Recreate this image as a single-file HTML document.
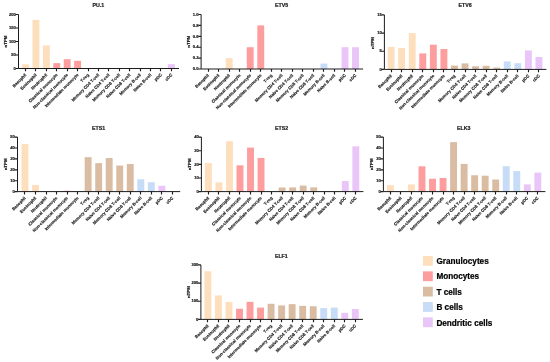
<!DOCTYPE html>
<html><head><meta charset="utf-8"><style>html,body{margin:0;padding:0;background:#fff;width:550px;height:362px;overflow:hidden}
svg{display:block;will-change:transform}
text{font-family:"Liberation Sans",sans-serif;font-weight:bold;fill:#1c1c1c}
.yl{font-size:4.1px;text-anchor:end;stroke:#1c1c1c;stroke-width:0.2px}
.xl{font-size:4.2px;text-anchor:end;stroke:#1c1c1c;stroke-width:0.15px}
.ti{font-size:5.25px;text-anchor:middle;stroke:#1c1c1c;stroke-width:0.2px}
.nt{font-size:4.4px;text-anchor:middle;stroke:#1c1c1c;stroke-width:0.2px}
.lg{font-size:8.2px;stroke:#000;fill:#000;stroke-width:0.22px}</style></head><body>
<svg width="550" height="362" viewBox="0 0 550 362">
<g><rect x="22.05" y="64.31" width="6.9" height="4.18" fill="#FEDFBD"/><rect x="32.47" y="19.9" width="6.9" height="48.6" fill="#FEDFBD"/><rect x="42.89" y="45.41" width="6.9" height="23.09" fill="#FEDFBD"/><rect x="53.31" y="63.15" width="6.9" height="5.35" fill="#FD9D9D"/><rect x="63.73" y="59.19" width="6.9" height="9.31" fill="#FD9D9D"/><rect x="74.15" y="60.8" width="6.9" height="7.69" fill="#FD9D9D"/><rect x="136.67" y="67.96" width="6.9" height="0.54" fill="#C7DCF7"/><rect x="167.93" y="64.18" width="6.9" height="4.32" fill="#EAC5F8"/><path d="M18.5 14.5V68.5H179" fill="none" stroke="#1c1c1c" stroke-width="1.0"/><path d="M15.7 68.5H18.5M15.7 55H18.5M15.7 41.5H18.5M15.7 28H18.5M15.7 14.5H18.5M25.5 68.5V71.3M35.5 68.5V71.3M46.5 68.5V71.3M56.5 68.5V71.3M67.5 68.5V71.3M77.5 68.5V71.3M88.5 68.5V71.3M98.5 68.5V71.3M108.5 68.5V71.3M119.5 68.5V71.3M129.5 68.5V71.3M140.5 68.5V71.3M150.5 68.5V71.3M160.5 68.5V71.3M171.5 68.5V71.3" fill="none" stroke="#1c1c1c" stroke-width="1.15"/><text class="yl" x="15.9" y="69.7">0</text><text class="yl" x="15.9" y="56.2">50</text><text class="yl" x="15.9" y="42.7">100</text><text class="yl" x="15.9" y="29.2">150</text><text class="yl" x="15.9" y="15.7">200</text><text class="nt" transform="translate(6.5 41.5) rotate(-90)">nTPM</text><text class="xl" transform="translate(26.7 75.2) rotate(-45)">Basophil</text><text class="xl" transform="translate(37.12 75.2) rotate(-45)">Eosinophil</text><text class="xl" transform="translate(47.54 75.2) rotate(-45)">Neutrophil</text><text class="xl" transform="translate(57.96 75.2) rotate(-45)">Classical monocyte</text><text class="xl" transform="translate(68.38 75.2) rotate(-45)">Non-classical monocyte</text><text class="xl" transform="translate(78.8 75.2) rotate(-45)">Intermediate monocyte</text><text class="xl" transform="translate(89.22 75.2) rotate(-45)">T-reg</text><text class="xl" transform="translate(99.64 75.2) rotate(-45)">Memory CD4 T-cell</text><text class="xl" transform="translate(110.06 75.2) rotate(-45)">Naive CD4 T-cell</text><text class="xl" transform="translate(120.48 75.2) rotate(-45)">Memory CD8 T-cell</text><text class="xl" transform="translate(130.9 75.2) rotate(-45)">Naive CD8 T-cell</text><text class="xl" transform="translate(141.32 75.2) rotate(-45)">Memory B-cell</text><text class="xl" transform="translate(151.74 75.2) rotate(-45)">Naive B-cell</text><text class="xl" transform="translate(162.16 75.2) rotate(-45)">pDC</text><text class="xl" transform="translate(172.58 75.2) rotate(-45)">cDC</text><text class="ti" x="98.3" y="7.2">PU.1</text></g>
<g><rect x="225.71" y="58.1" width="6.9" height="10.9" fill="#FEDFBD"/><rect x="246.77" y="47.2" width="6.9" height="21.8" fill="#FD9D9D"/><rect x="257.3" y="25.4" width="6.9" height="43.6" fill="#FD9D9D"/><rect x="320.48" y="63.55" width="6.9" height="5.45" fill="#C7DCF7"/><rect x="341.54" y="47.2" width="6.9" height="21.8" fill="#EAC5F8"/><rect x="352.07" y="47.2" width="6.9" height="21.8" fill="#EAC5F8"/><path d="M201.1 14.5V69H363.1" fill="none" stroke="#1c1c1c" stroke-width="1.0"/><path d="M198.3 69H201.1M198.3 58.1H201.1M198.3 47.2H201.1M198.3 36.3H201.1M198.3 25.4H201.1M198.3 14.5H201.1M208.5 69V71.8M218.5 69V71.8M229.5 69V71.8M239.5 69V71.8M250.5 69V71.8M260.5 69V71.8M271.5 69V71.8M281.5 69V71.8M292.5 69V71.8M302.5 69V71.8M313.5 69V71.8M323.5 69V71.8M334.5 69V71.8M344.5 69V71.8M355.5 69V71.8" fill="none" stroke="#1c1c1c" stroke-width="1.15"/><text class="yl" x="198.5" y="70.2">0.0</text><text class="yl" x="198.5" y="59.3">0.2</text><text class="yl" x="198.5" y="48.4">0.4</text><text class="yl" x="198.5" y="37.5">0.6</text><text class="yl" x="198.5" y="26.6">0.8</text><text class="yl" x="198.5" y="15.7">1.0</text><text class="nt" transform="translate(190.3 41.75) rotate(-90)">nTPM</text><text class="xl" transform="translate(209.3 75.7) rotate(-45)">Basophil</text><text class="xl" transform="translate(219.83 75.7) rotate(-45)">Eosinophil</text><text class="xl" transform="translate(230.36 75.7) rotate(-45)">Neutrophil</text><text class="xl" transform="translate(240.89 75.7) rotate(-45)">Classical monocyte</text><text class="xl" transform="translate(251.42 75.7) rotate(-45)">Non-classical monocyte</text><text class="xl" transform="translate(261.95 75.7) rotate(-45)">Intermediate monocyte</text><text class="xl" transform="translate(272.48 75.7) rotate(-45)">T-reg</text><text class="xl" transform="translate(283.01 75.7) rotate(-45)">Memory CD4 T-cell</text><text class="xl" transform="translate(293.54 75.7) rotate(-45)">Naive CD4 T-cell</text><text class="xl" transform="translate(304.07 75.7) rotate(-45)">Memory CD8 T-cell</text><text class="xl" transform="translate(314.6 75.7) rotate(-45)">Naive CD8 T-cell</text><text class="xl" transform="translate(325.13 75.7) rotate(-45)">Memory B-cell</text><text class="xl" transform="translate(335.66 75.7) rotate(-45)">Naive B-cell</text><text class="xl" transform="translate(346.19 75.7) rotate(-45)">pDC</text><text class="xl" transform="translate(356.72 75.7) rotate(-45)">cDC</text><text class="ti" x="281.65" y="7.3">ETV5</text></g>
<g><rect x="387.65" y="46.87" width="6.9" height="22.53" fill="#FEDFBD"/><rect x="398.21" y="47.96" width="6.9" height="21.44" fill="#FEDFBD"/><rect x="408.77" y="33.07" width="6.9" height="36.33" fill="#FEDFBD"/><rect x="419.33" y="53.41" width="6.9" height="15.99" fill="#FD9D9D"/><rect x="429.89" y="44.69" width="6.9" height="24.71" fill="#FD9D9D"/><rect x="440.45" y="49.05" width="6.9" height="20.35" fill="#FD9D9D"/><rect x="451.01" y="65.59" width="6.9" height="3.82" fill="#DABCA3"/><rect x="461.57" y="63.41" width="6.9" height="6" fill="#DABCA3"/><rect x="472.13" y="66.31" width="6.9" height="3.09" fill="#DABCA3"/><rect x="482.69" y="65.77" width="6.9" height="3.63" fill="#DABCA3"/><rect x="493.25" y="67.58" width="6.9" height="1.82" fill="#DABCA3"/><rect x="503.81" y="61.41" width="6.9" height="7.99" fill="#C7DCF7"/><rect x="514.37" y="63.22" width="6.9" height="6.18" fill="#C7DCF7"/><rect x="524.93" y="50.51" width="6.9" height="18.89" fill="#EAC5F8"/><rect x="535.49" y="57.05" width="6.9" height="12.35" fill="#EAC5F8"/><path d="M384.4 14.9V69.4H546.4" fill="none" stroke="#1c1c1c" stroke-width="1.0"/><path d="M381.6 69.4H384.4M381.6 51.23H384.4M381.6 33.07H384.4M381.6 14.9H384.4M391.5 69.4V72.2M401.5 69.4V72.2M412.5 69.4V72.2M422.5 69.4V72.2M433.5 69.4V72.2M443.5 69.4V72.2M454.5 69.4V72.2M465.5 69.4V72.2M475.5 69.4V72.2M486.5 69.4V72.2M496.5 69.4V72.2M507.5 69.4V72.2M517.5 69.4V72.2M528.5 69.4V72.2M538.5 69.4V72.2" fill="none" stroke="#1c1c1c" stroke-width="1.15"/><text class="yl" x="381.8" y="70.6">0</text><text class="yl" x="381.8" y="52.43">5</text><text class="yl" x="381.8" y="34.27">10</text><text class="yl" x="381.8" y="16.1">15</text><text class="nt" transform="translate(373.6 42.95) rotate(-90)">nTPM</text><text class="xl" transform="translate(392.3 76.1) rotate(-45)">Basophil</text><text class="xl" transform="translate(402.86 76.1) rotate(-45)">Eosinophil</text><text class="xl" transform="translate(413.42 76.1) rotate(-45)">Neutrophil</text><text class="xl" transform="translate(423.98 76.1) rotate(-45)">Classical monocyte</text><text class="xl" transform="translate(434.54 76.1) rotate(-45)">Non-classical monocyte</text><text class="xl" transform="translate(445.1 76.1) rotate(-45)">Intermediate monocyte</text><text class="xl" transform="translate(455.66 76.1) rotate(-45)">T-reg</text><text class="xl" transform="translate(466.22 76.1) rotate(-45)">Memory CD4 T-cell</text><text class="xl" transform="translate(476.78 76.1) rotate(-45)">Naive CD4 T-cell</text><text class="xl" transform="translate(487.34 76.1) rotate(-45)">Memory CD8 T-cell</text><text class="xl" transform="translate(497.9 76.1) rotate(-45)">Naive CD8 T-cell</text><text class="xl" transform="translate(508.46 76.1) rotate(-45)">Memory B-cell</text><text class="xl" transform="translate(519.02 76.1) rotate(-45)">Naive B-cell</text><text class="xl" transform="translate(529.58 76.1) rotate(-45)">pDC</text><text class="xl" transform="translate(540.14 76.1) rotate(-45)">cDC</text><text class="ti" x="465.15" y="7.3">ETV6</text></g>
<g><rect x="21.5" y="144.08" width="6.9" height="47.52" fill="#FEDFBD"/><rect x="32.03" y="185.06" width="6.9" height="6.54" fill="#FEDFBD"/><rect x="63.62" y="190.73" width="6.9" height="0.87" fill="#FD9D9D"/><rect x="84.68" y="157.16" width="6.9" height="34.44" fill="#DABCA3"/><rect x="95.21" y="163.15" width="6.9" height="28.45" fill="#DABCA3"/><rect x="105.74" y="158.03" width="6.9" height="33.57" fill="#DABCA3"/><rect x="116.27" y="165.55" width="6.9" height="26.05" fill="#DABCA3"/><rect x="126.8" y="164.02" width="6.9" height="27.58" fill="#DABCA3"/><rect x="137.33" y="179.28" width="6.9" height="12.32" fill="#C7DCF7"/><rect x="147.86" y="182.23" width="6.9" height="9.37" fill="#C7DCF7"/><rect x="158.39" y="185.71" width="6.9" height="5.89" fill="#EAC5F8"/><path d="M17.5 137.1V191.6H180.2" fill="none" stroke="#1c1c1c" stroke-width="1.0"/><path d="M14.7 191.6H17.5M14.7 180.7H17.5M14.7 169.8H17.5M14.7 158.9H17.5M14.7 148H17.5M14.7 137.1H17.5M24.5 191.6V194.4M35.5 191.6V194.4M46.5 191.6V194.4M56.5 191.6V194.4M67.5 191.6V194.4M77.5 191.6V194.4M88.5 191.6V194.4M98.5 191.6V194.4M109.5 191.6V194.4M119.5 191.6V194.4M130.5 191.6V194.4M140.5 191.6V194.4M151.5 191.6V194.4M161.5 191.6V194.4M172.5 191.6V194.4" fill="none" stroke="#1c1c1c" stroke-width="1.15"/><text class="yl" x="14.9" y="192.8">0</text><text class="yl" x="14.9" y="181.9">10</text><text class="yl" x="14.9" y="171">20</text><text class="yl" x="14.9" y="160.1">30</text><text class="yl" x="14.9" y="149.2">40</text><text class="yl" x="14.9" y="138.3">50</text><text class="nt" transform="translate(6.7 164.35) rotate(-90)">nTPM</text><text class="xl" transform="translate(26.15 198.3) rotate(-45)">Basophil</text><text class="xl" transform="translate(36.68 198.3) rotate(-45)">Eosinophil</text><text class="xl" transform="translate(47.21 198.3) rotate(-45)">Neutrophil</text><text class="xl" transform="translate(57.74 198.3) rotate(-45)">Classical monocyte</text><text class="xl" transform="translate(68.27 198.3) rotate(-45)">Non-classical monocyte</text><text class="xl" transform="translate(78.8 198.3) rotate(-45)">Intermediate monocyte</text><text class="xl" transform="translate(89.33 198.3) rotate(-45)">T-reg</text><text class="xl" transform="translate(99.86 198.3) rotate(-45)">Memory CD4 T-cell</text><text class="xl" transform="translate(110.39 198.3) rotate(-45)">Naive CD4 T-cell</text><text class="xl" transform="translate(120.92 198.3) rotate(-45)">Memory CD8 T-cell</text><text class="xl" transform="translate(131.45 198.3) rotate(-45)">Naive CD8 T-cell</text><text class="xl" transform="translate(141.98 198.3) rotate(-45)">Memory B-cell</text><text class="xl" transform="translate(152.51 198.3) rotate(-45)">Naive B-cell</text><text class="xl" transform="translate(163.04 198.3) rotate(-45)">pDC</text><text class="xl" transform="translate(173.57 198.3) rotate(-45)">cDC</text><text class="ti" x="98.6" y="129.6">ETS1</text></g>
<g><rect x="204.95" y="163.12" width="6.9" height="28.48" fill="#FEDFBD"/><rect x="215.48" y="182.34" width="6.9" height="9.26" fill="#FEDFBD"/><rect x="226.01" y="141.19" width="6.9" height="50.41" fill="#FEDFBD"/><rect x="236.54" y="165.3" width="6.9" height="26.3" fill="#FD9D9D"/><rect x="247.07" y="147.59" width="6.9" height="44.01" fill="#FD9D9D"/><rect x="257.6" y="157.95" width="6.9" height="33.65" fill="#FD9D9D"/><rect x="278.66" y="187.51" width="6.9" height="4.09" fill="#DABCA3"/><rect x="289.19" y="187.38" width="6.9" height="4.22" fill="#DABCA3"/><rect x="299.72" y="185.6" width="6.9" height="6" fill="#DABCA3"/><rect x="310.25" y="187.38" width="6.9" height="4.22" fill="#DABCA3"/><rect x="341.84" y="180.97" width="6.9" height="10.63" fill="#EAC5F8"/><rect x="352.37" y="146.36" width="6.9" height="45.24" fill="#EAC5F8"/><path d="M201.4 137.1V191.6H363.4" fill="none" stroke="#1c1c1c" stroke-width="1.0"/><path d="M198.6 191.6H201.4M198.6 177.97H201.4M198.6 164.35H201.4M198.6 150.72H201.4M198.6 137.1H201.4M208.5 191.6V194.4M218.5 191.6V194.4M229.5 191.6V194.4M239.5 191.6V194.4M250.5 191.6V194.4M261.5 191.6V194.4M271.5 191.6V194.4M282.5 191.6V194.4M292.5 191.6V194.4M303.5 191.6V194.4M313.5 191.6V194.4M324.5 191.6V194.4M334.5 191.6V194.4M345.5 191.6V194.4M355.5 191.6V194.4" fill="none" stroke="#1c1c1c" stroke-width="1.15"/><text class="yl" x="198.8" y="192.8">0</text><text class="yl" x="198.8" y="179.17">10</text><text class="yl" x="198.8" y="165.55">20</text><text class="yl" x="198.8" y="151.92">30</text><text class="yl" x="198.8" y="138.3">40</text><text class="nt" transform="translate(190.6 164.35) rotate(-90)">nTPM</text><text class="xl" transform="translate(209.6 198.3) rotate(-45)">Basophil</text><text class="xl" transform="translate(220.13 198.3) rotate(-45)">Eosinophil</text><text class="xl" transform="translate(230.66 198.3) rotate(-45)">Neutrophil</text><text class="xl" transform="translate(241.19 198.3) rotate(-45)">Classical monocyte</text><text class="xl" transform="translate(251.72 198.3) rotate(-45)">Non-classical monocyte</text><text class="xl" transform="translate(262.25 198.3) rotate(-45)">Intermediate monocyte</text><text class="xl" transform="translate(272.78 198.3) rotate(-45)">T-reg</text><text class="xl" transform="translate(283.31 198.3) rotate(-45)">Memory CD4 T-cell</text><text class="xl" transform="translate(293.84 198.3) rotate(-45)">Naive CD4 T-cell</text><text class="xl" transform="translate(304.37 198.3) rotate(-45)">Memory CD8 T-cell</text><text class="xl" transform="translate(314.9 198.3) rotate(-45)">Naive CD8 T-cell</text><text class="xl" transform="translate(325.43 198.3) rotate(-45)">Memory B-cell</text><text class="xl" transform="translate(335.96 198.3) rotate(-45)">Naive B-cell</text><text class="xl" transform="translate(346.49 198.3) rotate(-45)">pDC</text><text class="xl" transform="translate(357.02 198.3) rotate(-45)">cDC</text><text class="ti" x="281.65" y="129.7">ETS2</text></g>
<g><rect x="386.95" y="185.17" width="6.9" height="6.43" fill="#FEDFBD"/><rect x="408.01" y="184.41" width="6.9" height="7.19" fill="#FEDFBD"/><rect x="418.54" y="166.31" width="6.9" height="25.29" fill="#FD9D9D"/><rect x="429.07" y="178.74" width="6.9" height="12.86" fill="#FD9D9D"/><rect x="439.6" y="177.97" width="6.9" height="13.62" fill="#FD9D9D"/><rect x="450.13" y="142.11" width="6.9" height="49.49" fill="#DABCA3"/><rect x="460.66" y="163.91" width="6.9" height="27.69" fill="#DABCA3"/><rect x="471.19" y="175.25" width="6.9" height="16.35" fill="#DABCA3"/><rect x="481.72" y="175.69" width="6.9" height="15.91" fill="#DABCA3"/><rect x="492.25" y="179.5" width="6.9" height="12.1" fill="#DABCA3"/><rect x="502.78" y="166.2" width="6.9" height="25.4" fill="#C7DCF7"/><rect x="513.31" y="171.11" width="6.9" height="20.49" fill="#C7DCF7"/><rect x="523.84" y="184.41" width="6.9" height="7.19" fill="#EAC5F8"/><rect x="534.37" y="172.63" width="6.9" height="18.97" fill="#EAC5F8"/><path d="M383.4 137.1V191.6H545.4" fill="none" stroke="#1c1c1c" stroke-width="1.0"/><path d="M380.6 191.6H383.4M380.6 180.7H383.4M380.6 169.8H383.4M380.6 158.9H383.4M380.6 148H383.4M380.6 137.1H383.4M390.5 191.6V194.4M400.5 191.6V194.4M411.5 191.6V194.4M421.5 191.6V194.4M432.5 191.6V194.4M443.5 191.6V194.4M453.5 191.6V194.4M464.5 191.6V194.4M474.5 191.6V194.4M485.5 191.6V194.4M495.5 191.6V194.4M506.5 191.6V194.4M516.5 191.6V194.4M527.5 191.6V194.4M537.5 191.6V194.4" fill="none" stroke="#1c1c1c" stroke-width="1.15"/><text class="yl" x="380.8" y="192.8">0</text><text class="yl" x="380.8" y="181.9">10</text><text class="yl" x="380.8" y="171">20</text><text class="yl" x="380.8" y="160.1">30</text><text class="yl" x="380.8" y="149.2">40</text><text class="yl" x="380.8" y="138.3">50</text><text class="nt" transform="translate(372.6 164.35) rotate(-90)">nTPM</text><text class="xl" transform="translate(391.6 198.3) rotate(-45)">Basophil</text><text class="xl" transform="translate(402.13 198.3) rotate(-45)">Eosinophil</text><text class="xl" transform="translate(412.66 198.3) rotate(-45)">Neutrophil</text><text class="xl" transform="translate(423.19 198.3) rotate(-45)">Classical monocyte</text><text class="xl" transform="translate(433.72 198.3) rotate(-45)">Non-classical monocyte</text><text class="xl" transform="translate(444.25 198.3) rotate(-45)">Intermediate monocyte</text><text class="xl" transform="translate(454.78 198.3) rotate(-45)">T-reg</text><text class="xl" transform="translate(465.31 198.3) rotate(-45)">Memory CD4 T-cell</text><text class="xl" transform="translate(475.84 198.3) rotate(-45)">Naive CD4 T-cell</text><text class="xl" transform="translate(486.37 198.3) rotate(-45)">Memory CD8 T-cell</text><text class="xl" transform="translate(496.9 198.3) rotate(-45)">Naive CD8 T-cell</text><text class="xl" transform="translate(507.43 198.3) rotate(-45)">Memory B-cell</text><text class="xl" transform="translate(517.96 198.3) rotate(-45)">Naive B-cell</text><text class="xl" transform="translate(528.49 198.3) rotate(-45)">pDC</text><text class="xl" transform="translate(539.02 198.3) rotate(-45)">cDC</text><text class="ti" x="463.8" y="129.7">ELK3</text></g>
<g><rect x="204.45" y="271.26" width="6.9" height="48.14" fill="#FEDFBD"/><rect x="214.98" y="295.42" width="6.9" height="23.98" fill="#FEDFBD"/><rect x="225.51" y="302.03" width="6.9" height="17.37" fill="#FEDFBD"/><rect x="236.04" y="308.75" width="6.9" height="10.65" fill="#FD9D9D"/><rect x="246.57" y="301.83" width="6.9" height="17.57" fill="#FD9D9D"/><rect x="257.1" y="307.59" width="6.9" height="11.81" fill="#FD9D9D"/><rect x="267.63" y="303.78" width="6.9" height="15.62" fill="#DABCA3"/><rect x="278.16" y="305.41" width="6.9" height="13.99" fill="#DABCA3"/><rect x="288.69" y="304.14" width="6.9" height="15.26" fill="#DABCA3"/><rect x="299.22" y="305.85" width="6.9" height="13.55" fill="#DABCA3"/><rect x="309.75" y="306.25" width="6.9" height="13.15" fill="#DABCA3"/><rect x="320.28" y="308.14" width="6.9" height="11.26" fill="#C7DCF7"/><rect x="330.81" y="307.59" width="6.9" height="11.81" fill="#C7DCF7"/><rect x="341.34" y="312.77" width="6.9" height="6.63" fill="#EAC5F8"/><rect x="351.87" y="308.95" width="6.9" height="10.45" fill="#EAC5F8"/><path d="M200.9 264.9V319.4H362.9" fill="none" stroke="#1c1c1c" stroke-width="1.0"/><path d="M198.1 319.4H200.9M198.1 301.23H200.9M198.1 283.07H200.9M198.1 264.9H200.9M207.5 319.4V322.2M218.5 319.4V322.2M228.5 319.4V322.2M239.5 319.4V322.2M250.5 319.4V322.2M260.5 319.4V322.2M271.5 319.4V322.2M281.5 319.4V322.2M292.5 319.4V322.2M302.5 319.4V322.2M313.5 319.4V322.2M323.5 319.4V322.2M334.5 319.4V322.2M344.5 319.4V322.2M355.5 319.4V322.2" fill="none" stroke="#1c1c1c" stroke-width="1.15"/><text class="yl" x="198.3" y="320.6">0</text><text class="yl" x="198.3" y="302.43">100</text><text class="yl" x="198.3" y="284.27">200</text><text class="yl" x="198.3" y="266.1">300</text><text class="nt" transform="translate(190.1 292.15) rotate(-90)">nTPM</text><text class="xl" transform="translate(209.1 326.1) rotate(-45)">Basophil</text><text class="xl" transform="translate(219.63 326.1) rotate(-45)">Eosinophil</text><text class="xl" transform="translate(230.16 326.1) rotate(-45)">Neutrophil</text><text class="xl" transform="translate(240.69 326.1) rotate(-45)">Classical monocyte</text><text class="xl" transform="translate(251.22 326.1) rotate(-45)">Non-classical monocyte</text><text class="xl" transform="translate(261.75 326.1) rotate(-45)">Intermediate monocyte</text><text class="xl" transform="translate(272.28 326.1) rotate(-45)">T-reg</text><text class="xl" transform="translate(282.81 326.1) rotate(-45)">Memory CD4 T-cell</text><text class="xl" transform="translate(293.34 326.1) rotate(-45)">Naive CD4 T-cell</text><text class="xl" transform="translate(303.87 326.1) rotate(-45)">Memory CD8 T-cell</text><text class="xl" transform="translate(314.4 326.1) rotate(-45)">Naive CD8 T-cell</text><text class="xl" transform="translate(324.93 326.1) rotate(-45)">Memory B-cell</text><text class="xl" transform="translate(335.46 326.1) rotate(-45)">Naive B-cell</text><text class="xl" transform="translate(345.99 326.1) rotate(-45)">pDC</text><text class="xl" transform="translate(356.52 326.1) rotate(-45)">cDC</text><text class="ti" x="281.3" y="257.8">ELF1</text></g>
<g><rect x="423" y="256" width="9.8" height="9.8" fill="#FEDFBD"/><text class="lg" x="436.4" y="264.1">Granulocytes</text><rect x="423" y="271.35" width="9.8" height="9.8" fill="#FD9D9D"/><text class="lg" x="436.4" y="279.45">Monocytes</text><rect x="423" y="286.7" width="9.8" height="9.8" fill="#DABCA3"/><text class="lg" x="436.4" y="294.8">T cells</text><rect x="423" y="302.05" width="9.8" height="9.8" fill="#C7DCF7"/><text class="lg" x="436.4" y="310.15">B cells</text><rect x="423" y="317.4" width="9.8" height="9.8" fill="#EAC5F8"/><text class="lg" x="436.4" y="325.5">Dendritic cells</text></g>
</svg></body></html>
